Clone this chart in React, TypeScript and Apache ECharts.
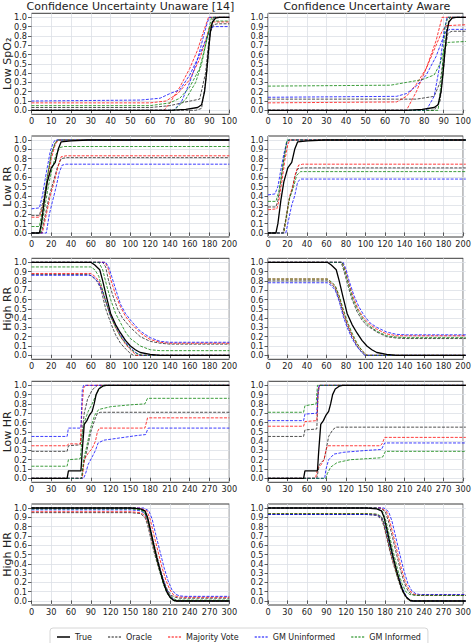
import React, { useEffect, useRef } from "react";
import * as echarts from "echarts";

// ---------- texts ----------
const colTitles = ["Confidence Uncertainty Unaware [14]", "Confidence Uncertainty Aware"];
const rowLabels = ["Low SpO\u2082", "Low RR", "High RR", "Low HR", "High HR"];
const methods = ["True", "Oracle", "Majority Vote", "GM Uninformed", "GM Informed"];
const xMaxByRow = [100, 200, 200, 300, 300];
const xStepByRow = [10, 20, 20, 30, 30];

// ---------- Low SpO2 ----------
const spo2True = [[0,0],[70,0],[78,0.01],[84,0.03],[86,0.06],[87.5,0.2],[88.5,0.4],[89.5,0.65],[90.5,0.85],[91.5,0.95],[93,0.99],[95,1],[100,1]];
const spo2U_oracle = [
  [[0,0],[83,0],[86,0.02],[88,0.3],[89.5,0.6],[90.5,0.88],[92,1],[100,1]],
  [[0,0.03],[60,0.03],[70,0.05],[78,0.09],[85,0.12],[88,0.4],[90,0.82],[92,0.92],[94,0.93],[100,0.93]],
];
const spo2U_mv = [
  [[0,0],[67,0],[70,0.08],[75,0.25],[80,0.45],[84,0.65],[87,0.85],[89.5,1],[100,1]],
  [[0,0.08],[60,0.08],[68,0.1],[74,0.18],[80,0.33],[85,0.55],[88,0.75],[90,0.9],[92,0.95],[100,0.95]],
];
const spo2U_gmu = [
  [[0,0],[72,0],[76,0.1],[80,0.3],[84,0.55],[87,0.8],[89,0.95],[90,1],[100,1]],
  [[0,0.1],[55,0.11],[65,0.13],[70,0.18],[75,0.22],[80,0.38],[85,0.6],[88,0.75],[90,0.85],[92,0.9],[100,0.9]],
];
const spo2U_gmi = [
  [[0,0],[72,0],[78,0.12],[83,0.3],[86,0.5],[89,0.8],[91,1],[100,1]],
  [[0,0.05],[60,0.05],[70,0.08],[75,0.13],[80,0.25],[85,0.45],[88,0.7],[90,0.88],[92,0.96],[100,0.96]],
];
const spo2A_oracle = [
  [[0,0],[84,0],[87,0.1],[89,0.5],[90.5,0.9],[92,1],[100,1]],
  [[0,0.12],[75,0.12],[84,0.15],[87,0.3],[89,0.6],[91,0.83],[93,0.85],[100,0.85]],
];
const spo2A_mv = [
  [[0,0],[70,0],[75,0.2],[80,0.45],[85,0.75],[88,1],[100,1]],
  [[0,0.08],[65,0.09],[70,0.15],[75,0.28],[80,0.45],[85,0.7],[88,0.85],[90,0.91],[100,0.92]],
];
const spo2A_gmu = [
  [[0,0],[80,0],[84,0.15],[87,0.5],[89,0.85],[90.5,1],[100,1]],
  [[0,0.14],[65,0.15],[70,0.18],[75,0.26],[80,0.38],[85,0.58],[88,0.75],[90,0.85],[92,0.87],[100,0.87]],
];
const spo2A_gmi = [
  [[0,0],[86,0],[88,0.4],[89.5,0.9],[91,1],[100,1]],
  [[0,0.26],[62,0.27],[70,0.3],[78,0.33],[84,0.38],[87,0.5],[89,0.65],[91,0.73],[100,0.74]],
];

// ---------- Low RR ----------
const lowRRTrue = [[0,0],[8,0],[10,0.1],[13,0.35],[16,0.55],[20,0.7],[24,0.76],[27,0.9],[30,0.98],[40,0.99],[57,1],[200,1]];
const lowRRU_oracle = [
  [[0,0.19],[8,0.19],[12,0.35],[16,0.6],[20,0.85],[24,0.97],[26,1],[200,1]],
  [[0,0],[10,0],[14,0.2],[18,0.4],[22,0.55],[26,0.7],[30,0.8],[35,0.81],[200,0.81]],
];
const lowRRU_mv = [
  [[0,0.17],[8,0.17],[12,0.3],[16,0.55],[20,0.8],[24,0.95],[27,1],[200,1]],
  [[0,0],[11,0],[15,0.2],[19,0.4],[23,0.55],[27,0.72],[30,0.82],[35,0.83],[200,0.83]],
];
const lowRRU_gmu = [
  [[0,0.26],[8,0.27],[11,0.4],[15,0.65],[19,0.88],[22,0.97],[24,1],[200,1]],
  [[0,0],[15,0],[18,0.2],[21,0.33],[25,0.5],[28,0.65],[31,0.73],[35,0.74],[200,0.74]],
];
const lowRRU_gmi = [
  [[0,0.07],[8,0.07],[12,0.3],[16,0.6],[20,0.85],[24,0.97],[27,1],[200,1]],
  [[0,0],[9,0],[13,0.25],[17,0.5],[21,0.7],[25,0.85],[29,0.92],[33,0.93],[200,0.93]],
];
const lowRRA_oracle = [
  [[0,0.28],[8,0.28],[10,0.35],[13,0.55],[16,0.8],[19,0.97],[21,1],[200,1]],
  [[0,0],[15,0],[18,0.15],[21,0.35],[24,0.45],[27,0.6],[30,0.69],[35,0.7],[200,0.7]],
];
const lowRRA_mv = [
  [[0,0.25],[9,0.26],[11,0.35],[14,0.55],[17,0.78],[20,0.95],[22,1],[200,1]],
  [[0,0],[16,0],[19,0.2],[22,0.4],[25,0.5],[28,0.65],[31,0.73],[35,0.74],[200,0.74]],
];
const lowRRA_gmu = [
  [[0,0.41],[7,0.42],[10,0.5],[13,0.68],[16,0.85],[19,0.98],[21,1],[200,1]],
  [[0,0],[18,0],[21,0.15],[24,0.3],[27,0.4],[30,0.55],[33,0.58],[200,0.58]],
];
const lowRRA_gmi = [
  [[0,0.34],[8,0.34],[11,0.45],[14,0.65],[17,0.85],[19,1],[200,1]],
  [[0,0],[16,0],[19,0.2],[22,0.38],[26,0.5],[29,0.62],[33,0.66],[200,0.66]],
];

// ---------- High RR ----------
const highRRTrue = [[0,1],[60,1],[64,0.97],[69,0.92],[72,0.8],[76,0.62],[80,0.45],[85,0.33],[90,0.24],[95,0.16],[100,0.1],[105,0.06],[110,0.03],[120,0.01],[130,0],[200,0]];
const highRRU_oracle = [
  [[0,1],[72,1],[75,0.95],[78,0.8],[82,0.65],[87,0.5],[92,0.4],[100,0.3],[110,0.2],[120,0.15],[130,0.13],[140,0.12],[200,0.12]],
  [[0,0.87],[58,0.87],[62,0.84],[66,0.8],[70,0.72],[75,0.5],[80,0.35],[85,0.22],[90,0.13],[95,0.07],[100,0.02],[103,0],[200,0]],
];
const highRRU_mv = [
  [[0,1],[74,1],[77,0.95],[80,0.82],[85,0.65],[90,0.52],[95,0.42],[100,0.35],[110,0.24],[120,0.17],[130,0.14],[140,0.13],[200,0.13]],
  [[0,0.88],[60,0.88],[64,0.85],[68,0.8],[72,0.68],[76,0.55],[80,0.42],[85,0.3],[90,0.2],[95,0.12],[100,0.06],[106,0],[200,0]],
];
const highRRU_gmu = [
  [[0,1],[75,1],[78,0.95],[81,0.85],[86,0.68],[90,0.55],[95,0.45],[100,0.38],[110,0.26],[120,0.19],[130,0.15],[140,0.14],[200,0.14]],
  [[0,0.86],[60,0.86],[64,0.83],[68,0.78],[72,0.68],[76,0.55],[80,0.42],[86,0.3],[92,0.18],[98,0.1],[104,0.04],[110,0],[200,0]],
];
const highRRU_gmi = [
  [[0,1],[68,1],[72,0.92],[76,0.75],[80,0.6],[85,0.45],[90,0.35],[95,0.25],[100,0.18],[110,0.1],[120,0.06],[130,0.05],[200,0.05]],
  [[0,0.95],[60,0.95],[64,0.92],[68,0.85],[72,0.7],[76,0.55],[80,0.42],[85,0.3],[90,0.2],[95,0.13],[100,0.07],[106,0.02],[112,0],[200,0]],
];
const highRRA_oracle = [
  [[0,1],[74,1],[77,0.9],[80,0.78],[85,0.6],[90,0.47],[95,0.38],[100,0.32],[110,0.25],[120,0.2],[130,0.185],[140,0.18],[200,0.18]],
  [[0,0.8],[60,0.8],[64,0.77],[68,0.72],[72,0.6],[76,0.45],[80,0.33],[85,0.2],[90,0.1],[95,0.03],[98,0],[200,0]],
];
const highRRA_mv = [
  [[0,1],[75,1],[78,0.92],[81,0.8],[86,0.63],[91,0.5],[96,0.41],[102,0.34],[110,0.28],[120,0.23],[130,0.21],[140,0.21],[200,0.21]],
  [[0,0.82],[60,0.82],[64,0.78],[68,0.74],[72,0.63],[76,0.48],[80,0.35],[85,0.22],[90,0.12],[95,0.05],[100,0],[200,0]],
];
const highRRA_gmu = [
  [[0,1],[76,1],[79,0.92],[82,0.8],[87,0.64],[92,0.52],[97,0.43],[103,0.35],[110,0.3],[120,0.25],[130,0.225],[140,0.22],[200,0.22]],
  [[0,0.78],[60,0.78],[64,0.75],[68,0.7],[72,0.58],[76,0.42],[80,0.3],[85,0.18],[90,0.09],[95,0.03],[98,0],[200,0]],
];
const highRRA_gmi = [
  [[0,1],[75,1],[78,0.9],[81,0.78],[86,0.6],[91,0.48],[96,0.39],[102,0.32],[110,0.26],[120,0.21],[130,0.195],[140,0.19],[200,0.19]],
  [[0,0.82],[60,0.82],[64,0.79],[68,0.75],[72,0.64],[76,0.5],[80,0.37],[85,0.24],[90,0.13],[95,0.05],[100,0],[200,0]],
];

// ---------- Low HR ----------
const lowHRTrue = [[0,0],[54,0],[56,0.08],[75,0.08],[77,0.3],[80,0.58],[84,0.62],[88,0.68],[92,0.72],[95,0.8],[98,0.9],[102,0.96],[108,0.99],[113,1],[300,1]];
const lowHRU_oracle = [
  [[0,0.29],[54,0.29],[56,0.35],[74,0.36],[77,0.5],[80,0.7],[85,0.85],[92,0.95],[100,1],[300,1]],
  [[0,0],[76,0],[79,0.15],[84,0.3],[90,0.5],[96,0.63],[100,0.7],[105,0.71],[300,0.71]],
];
const lowHRU_mv = [
  [[0,0.35],[54,0.35],[56,0.37],[74,0.37],[77,0.8],[79,0.97],[82,1],[300,1]],
  [[0,0],[77,0],[80,0.2],[86,0.27],[92,0.32],[97,0.4],[100,0.5],[103,0.54],[172,0.54],[176,0.65],[300,0.65]],
];
const lowHRU_gmu = [
  [[0,0.45],[54,0.45],[56,0.54],[75,0.54],[77,0.95],[79,1],[300,1]],
  [[0,0],[79,0],[82,0.05],[86,0.15],[92,0.23],[97,0.3],[101,0.38],[110,0.41],[130,0.43],[160,0.46],[173,0.47],[177,0.54],[300,0.54]],
];
const lowHRU_gmi = [
  [[0,0.13],[54,0.13],[56,0.2],[74,0.21],[77,0.45],[80,0.6],[86,0.72],[92,0.8],[98,0.9],[104,0.98],[108,1],[300,1]],
  [[0,0],[76,0],[79,0.2],[84,0.35],[90,0.55],[96,0.68],[102,0.74],[120,0.77],[150,0.79],[172,0.8],[176,0.86],[300,0.86]],
];
const lowHRA_oracle = [
  [[0,0.45],[54,0.45],[56,0.52],[74,0.53],[76,0.9],[78,1],[300,1]],
  [[0,0],[74,0],[78,0.15],[85,0.2],[88,0.3],[92,0.45],[98,0.52],[103,0.55],[300,0.55]],
];
const lowHRA_mv = [
  [[0,0.56],[54,0.56],[56,0.61],[74,0.62],[76,0.95],[78,1],[300,1]],
  [[0,0],[72,0],[76,0.12],[80,0.14],[85,0.2],[88,0.3],[90,0.35],[170,0.35],[173,0.37],[177,0.44],[300,0.44]],
];
const lowHRA_gmu = [
  [[0,0.62],[54,0.62],[56,0.69],[74,0.7],[76,0.95],[78,1],[300,1]],
  [[0,0],[86,0],[88,0.1],[92,0.2],[100,0.26],[115,0.28],[150,0.3],[172,0.31],[177,0.38],[300,0.38]],
];
const lowHRA_gmi = [
  [[0,0.71],[54,0.71],[56,0.78],[73,0.8],[75,1],[300,1]],
  [[0,0],[88,0],[90,0.05],[95,0.12],[105,0.17],[125,0.2],[170,0.22],[174,0.23],[178,0.29],[300,0.29]],
];

// ---------- High HR ----------
const highHRTrue = [[0,1],[150,1],[165,0.99],[172,0.97],[176,0.9],[180,0.78],[185,0.62],[190,0.47],[195,0.33],[200,0.2],[205,0.1],[210,0.04],[215,0.01],[220,0],[300,0]];
const highHRU_oracle = [
  [[0,1],[160,1],[172,0.97],[177,0.88],[182,0.72],[188,0.55],[194,0.38],[200,0.23],[206,0.12],[212,0.06],[218,0.04],[225,0.03],[300,0.03]],
  [[0,0.95],[150,0.95],[165,0.94],[172,0.9],[176,0.82],[180,0.7],[185,0.55],[190,0.42],[196,0.28],[202,0.15],[208,0.06],[214,0.01],[218,0],[300,0]],
];
const highHRU_mv = [
  [[0,1],[165,1],[175,0.97],[180,0.88],[186,0.7],[192,0.53],[198,0.36],[204,0.22],[210,0.12],[216,0.06],[222,0.045],[230,0.04],[300,0.04]],
  [[0,0.96],[150,0.96],[165,0.95],[172,0.92],[177,0.83],[181,0.7],[186,0.55],[191,0.42],[197,0.28],[203,0.15],[209,0.06],[215,0.01],[219,0],[300,0]],
];
const highHRU_gmu = [
  [[0,1],[170,1],[178,0.97],[183,0.88],[189,0.7],[195,0.53],[201,0.36],[207,0.22],[213,0.12],[219,0.07],[225,0.055],[232,0.05],[300,0.05]],
  [[0,0.98],[150,0.98],[165,0.97],[172,0.94],[177,0.85],[181,0.72],[186,0.57],[191,0.43],[197,0.29],[203,0.16],[209,0.07],[215,0.02],[220,0],[300,0]],
];
const highHRU_gmi = [
  [[0,1],[158,1],[170,0.97],[175,0.9],[180,0.76],[185,0.6],[190,0.45],[196,0.3],[202,0.17],[208,0.08],[214,0.03],[220,0.01],[300,0.01]],
  [[0,0.99],[150,0.99],[165,0.98],[172,0.95],[176,0.88],[180,0.76],[185,0.6],[190,0.45],[195,0.31],[200,0.18],[206,0.08],[212,0.02],[217,0],[300,0]],
];
const highHRA_oracle = [
  [[0,1],[170,1],[178,0.96],[183,0.85],[189,0.68],[195,0.5],[201,0.33],[207,0.19],[213,0.1],[219,0.07],[226,0.06],[300,0.06]],
  [[0,0.93],[150,0.93],[165,0.92],[172,0.88],[176,0.8],[180,0.68],[185,0.53],[190,0.4],[196,0.26],[202,0.13],[208,0.05],[213,0.01],[216,0],[300,0]],
];
const highHRA_mv = [
  [[0,1],[172,1],[180,0.96],[185,0.85],[191,0.68],[197,0.5],[203,0.33],[209,0.19],[215,0.11],[221,0.075],[228,0.065],[300,0.065]],
  [[0,0.94],[150,0.94],[165,0.93],[172,0.9],[176,0.82],[180,0.7],[185,0.55],[190,0.42],[196,0.28],[202,0.15],[208,0.06],[213,0.01],[217,0],[300,0]],
];
const highHRA_gmu = [
  [[0,1],[176,1],[183,0.96],[188,0.86],[194,0.68],[200,0.5],[206,0.33],[212,0.19],[218,0.11],[224,0.08],[230,0.07],[300,0.07]],
  [[0,0.93],[150,0.93],[165,0.925],[172,0.9],[177,0.82],[181,0.7],[186,0.55],[191,0.42],[197,0.28],[203,0.15],[209,0.06],[214,0.01],[218,0],[300,0]],
];
const highHRA_gmi = [
  [[0,1],[165,1],[174,0.96],[179,0.86],[185,0.68],[191,0.5],[197,0.33],[203,0.19],[209,0.1],[215,0.07],[222,0.062],[300,0.06]],
  [[0,0.94],[150,0.94],[165,0.935],[172,0.91],[176,0.84],[180,0.72],[185,0.57],[190,0.44],[195,0.3],[201,0.17],[207,0.07],[212,0.02],[216,0],[300,0]],
];

const rowTrue = [spo2True, lowRRTrue, highRRTrue, lowHRTrue, highHRTrue];
const panelCurves = [
  [spo2U_oracle, spo2U_mv, spo2U_gmu, spo2U_gmi], [spo2A_oracle, spo2A_mv, spo2A_gmu, spo2A_gmi],
  [lowRRU_oracle, lowRRU_mv, lowRRU_gmu, lowRRU_gmi], [lowRRA_oracle, lowRRA_mv, lowRRA_gmu, lowRRA_gmi],
  [highRRU_oracle, highRRU_mv, highRRU_gmu, highRRU_gmi], [highRRA_oracle, highRRA_mv, highRRA_gmu, highRRA_gmi],
  [lowHRU_oracle, lowHRU_mv, lowHRU_gmu, lowHRU_gmi], [lowHRA_oracle, lowHRA_mv, lowHRA_gmu, lowHRA_gmi],
  [highHRU_oracle, highHRU_mv, highHRU_gmu, highHRU_gmi], [highHRA_oracle, highHRA_mv, highHRA_gmu, highHRA_gmi],
];

// ---------- layout / style ----------
const COL_LEFT = [31.5, 268];
const PANEL_W = 197.8;
const ROW_TOP = [17.3, 140, 262.3, 385.3, 508]; // pixel of y = 1.0
const UNIT_H = 93; // pixels from 1.0 to 0.0
const PAD = 4;
const FONT = "DejaVu Sans";
const TICK_FONT = 8.2;
const methodColors = ["#000000", "#1a1a1a", "#ff0000", "#0000ff", "#008000"];
const GRID_COLOR = "#dcdfe6";
const TEXT_COLOR = "#222222";
const SOLID_ICON = "path://M0,0H13V1.5H0Z";
const DASH_ICON = "path://M0,0H2.2V1H0Z M3.6,0H5.8V1H3.6Z M7.2,0H9.4V1H7.2Z M10.8,0H13V1H10.8Z";

function buildOption() {
  const grid: any[] = [];
  const xAxis: any[] = [];
  const yAxis: any[] = [];
  const series: any[] = [];
  const graphic: any[] = [];

  for (let r = 0; r < 5; r++) {
    for (let c = 0; c < 2; c++) {
      const p = r * 2 + c;
      const left = COL_LEFT[c];
      const top = ROW_TOP[r];
      grid.push({ left, top: top - PAD, width: PANEL_W, height: UNIT_H + 2 * PAD, show: true, borderColor: "#3a3a3a", borderWidth: 1, backgroundColor: "transparent", containLabel: false });
      grid.push({ left, top, width: PANEL_W, height: UNIT_H, containLabel: false });
      xAxis.push({
        gridIndex: 2 * p, type: "value", min: 0, max: xMaxByRow[r], interval: xStepByRow[r],
        axisLine: { show: false },
        axisTick: { show: true, length: 3.5, lineStyle: { color: "#333", width: 0.8 } },
        axisLabel: { fontSize: TICK_FONT, fontFamily: FONT, color: TEXT_COLOR, margin: 3, showMinLabel: true, showMaxLabel: true },
        splitLine: { show: true, lineStyle: { color: GRID_COLOR, width: 0.8 } },
      });
      xAxis.push({ gridIndex: 2 * p + 1, type: "value", min: 0, max: xMaxByRow[r], show: false });
      yAxis.push({ gridIndex: 2 * p, type: "value", min: -0.05, max: 1.05, show: false });
      yAxis.push({
        gridIndex: 2 * p + 1, type: "value", min: 0, max: 1, interval: 0.1,
        axisLine: { show: false },
        axisTick: { show: true, length: 3.5, lineStyle: { color: "#333", width: 0.8 } },
        axisLabel: { fontSize: TICK_FONT, fontFamily: FONT, color: TEXT_COLOR, margin: 4.5, showMinLabel: true, showMaxLabel: true, formatter: (v: number) => v.toFixed(1) },
        splitLine: { show: true, lineStyle: { color: GRID_COLOR, width: 0.8 } },
      });
      const curves = panelCurves[p];
      for (let m = 0; m < 4; m++) {
        for (const cv of curves[m]) {
          series.push({
            name: methods[m + 1], type: "line", xAxisIndex: 2 * p + 1, yAxisIndex: 2 * p + 1,
            data: cv, symbol: "none", showSymbol: false, clip: false, silent: true,
            lineStyle: { color: methodColors[m + 1], width: 0.85, type: [3, 1.4], opacity: 0.9 },
            itemStyle: { color: methodColors[m + 1] },
          });
        }
      }
      series.push({
        name: "True", type: "line", xAxisIndex: 2 * p + 1, yAxisIndex: 2 * p + 1,
        data: rowTrue[r], symbol: "none", showSymbol: false, clip: false, silent: true,
        lineStyle: { color: "#000", width: 1.3, type: "solid" },
        itemStyle: { color: "#000" },
      });
    }
  }
  colTitles.forEach((t, c) => {
    graphic.push({
      type: "text", x: COL_LEFT[c] + PANEL_W / 2, y: 6,
      style: { text: t, fontSize: 11, fontFamily: FONT, fill: TEXT_COLOR, textAlign: "center", textVerticalAlign: "middle" },
    });
  });
  rowLabels.forEach((t, r) => {
    graphic.push({
      type: "text", x: 7.5, y: ROW_TOP[r] + UNIT_H / 2, rotation: Math.PI / 2,
      style: { text: t, fontSize: 11, fontFamily: FONT, fill: TEXT_COLOR, textAlign: "center", textVerticalAlign: "middle" },
    });
  });

  return {
    animation: false,
    grid, xAxis, yAxis, series, graphic,
    legend: {
      data: methods.map((n, i) => ({ name: n, icon: i === 0 ? SOLID_ICON : DASH_ICON })),
      left: 50, top: 628, orient: "horizontal",
      itemWidth: 13, itemHeight: 1.5, itemGap: 16, selectedMode: false,
      itemStyle: { borderWidth: 0 },
      padding: [5, 7, 9, 7], borderColor: "#cccccc", borderWidth: 0.8, borderRadius: 3,
      textStyle: { fontSize: 8, fontFamily: FONT, color: TEXT_COLOR },
    },
  };
}

export default function App() {
  const ref = useRef<HTMLDivElement>(null);
  useEffect(() => {
    if (!ref.current) return;
    const chart = echarts.init(ref.current, null, { renderer: "svg" });
    chart.setOption(buildOption());
    return () => chart.dispose();
  }, []);
  return <div ref={ref} style={{ position: "absolute", left: 0, top: 0, width: 474, height: 643, background: "#fff" }} />;
}
